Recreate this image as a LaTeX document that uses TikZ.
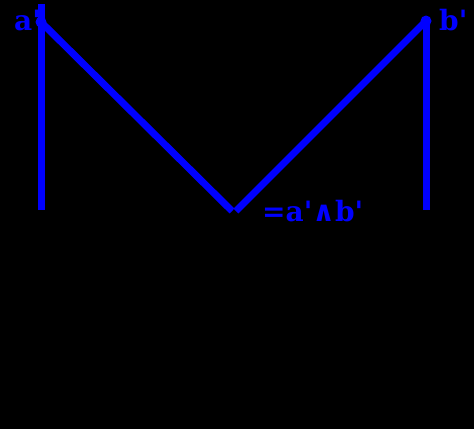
\documentclass[tikz,border=0pt]{standalone}
\usepackage{fontspec}
\setmainfont{DejaVu Serif}
\newcommand{\sq}{\textquotesingle}
\begin{document}
\begin{tikzpicture}[x=1pt,y=-1pt,
  edge/.style={draw=blue,line width=7pt},
  pt/.style={circle,fill=blue,inner sep=0pt,minimum size=11pt},
  lbl/.style={text=blue,font=\bfseries\fontsize{28}{28}\selectfont,inner sep=0pt}]
\fill[black] (0,0) rectangle (474,429);
\useasboundingbox (0,0) rectangle (474,429);
\node[pt] (a) at (41,22) {};
\node[pt] (b) at (426,21) {};
\coordinate (atop) at (41,4);
\coordinate (abot) at (41,210);
\coordinate (bbot) at (426,210);
\coordinate (m1) at (232,211);
\coordinate (m2) at (236,211);
\draw[edge] (atop) -- (abot);
\draw[edge] (b.center) -- (bbot);
\draw[edge] (a.center) -- (m1);
\draw[edge] (m2) -- (b.center);
\node[lbl,anchor=base west] (la) at (14,30) {a\sq};
\node[lbl,anchor=base west] (lb) at (439,30) {b\sq};
\node[lbl,anchor=base west] (lm) at (262,221) {=a\sq∧b\sq};
\end{tikzpicture}
\end{document}
